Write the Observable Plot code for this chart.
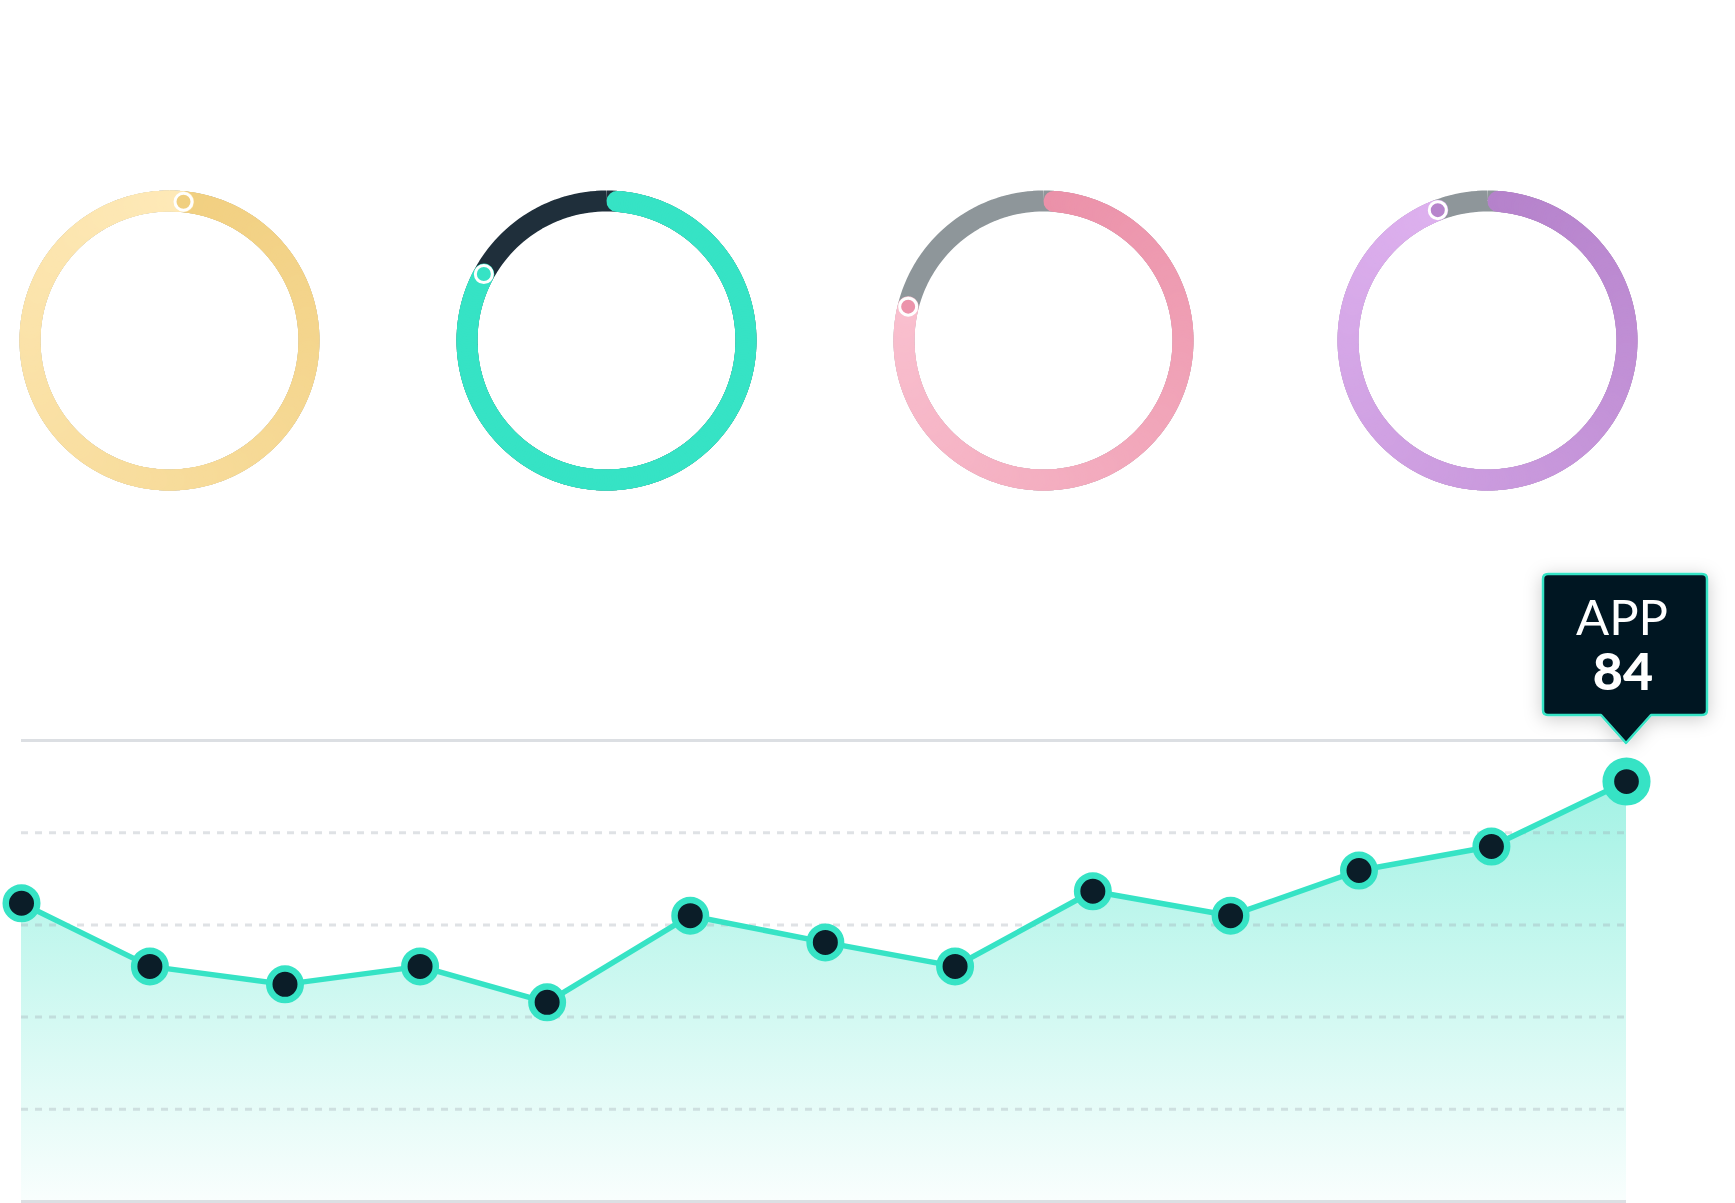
<!DOCTYPE html>
<html>
<head>
<meta charset="utf-8">
<script src="https://cdn.jsdelivr.net/npm/d3@7"></script>
<script src="https://cdn.jsdelivr.net/npm/@observablehq/plot@0.6"></script>
<style>
  html, body { margin: 0; padding: 0; background: #fff; width: 1735px; height: 1203px; overflow: hidden; }
  #rings { display: flex; box-sizing: border-box; height: 490px; padding-top: 190px; padding-left: 19px; }
  #rings > svg { display: block; overflow: visible; flex: none; }
  #rings > svg:nth-child(2), #rings > svg:nth-child(3) { margin-left: 137px; }
  #rings > svg:nth-child(4) { margin-left: 144px; }
  #line > svg { display: block; overflow: visible; }
</style>
</head>
<body>
<div id="rings"></div>
<div id="line"></div>
<script>
// ---------- DATA ----------
const ringNames = ["Ring 1", "Ring 2", "Ring 3", "Ring 4"];
const ringValues = [1.016, 0.829, 0.789, 0.942];

const pointX = [0, 0.96, 1.97, 2.98, 3.93, 5.0, 6.01, 6.98, 8.01, 9.04, 10.0, 10.99, 12];
const pointY = [64.7, 51.0, 47.1, 51.0, 43.2, 62.0, 56.2, 51.0, 67.3, 62.0, 71.8, 77.0, 91.1];
const gridTicks = [0, 20, 40, 60, 80, 100];
const tooltipLabel = "APP";
const tooltipValue = "84";

// ---------- STYLES ----------
const ringStartColors = ["#f1cf80", "#36e3c5", "#eb91a9", "#b582cb"];
const ringEndColors = ["#fee9b7", "#36e3c5", "#f9bfce", "#ddb0ee"];
const ringTrackColors = ["#8e969a", "#1f2f3b", "#8e969a", "#8e969a"];
const ringMarkerColors = ["#f0cf7f", "#36e3c5", "#ec93ab", "#b784cc"];
const teal = "#36e3c5";
const navy = "#0b1d28";

// ---------- RINGS ----------
const R = 0.93; // ring centre-line radius relative to the outer radius
const TAU = Math.PI * 2;
const capTurn = (10.5 / 139.5) / TAU; // round cap begins exactly at 12 o'clock
function polar(t) { return {x: R * Math.sin(t * TAU), y: R * Math.cos(t * TAU)}; }

function ringPlot(i) {
  const v = ringValues[i];
  const track = d3.range(0, 181).map(k => polar(k / 180));
  const n = Math.max(2, Math.round(v * 360));
  const interp = d3.interpolateRgb(ringStartColors[i], ringEndColors[i]);
  const t0 = capTurn;
  const segs = d3.range(n).map(k => {
    const a = polar(t0 + k / n * (v - t0)), b = polar(t0 + (k + 1) / n * (v - t0));
    return {x1: a.x, y1: a.y, x2: b.x, y2: b.y, c: interp((k + 0.5) / n), ring: ringNames[i]};
  });
  const marker = [{...polar(v), ring: ringNames[i]}];
  return Plot.plot({
    width: 300, height: 300, margin: 0,
    x: {domain: [-1, 1], axis: null},
    y: {domain: [-1, 1], axis: null},
    color: {type: "identity"},
    marks: [
      Plot.line(track, {x: "x", y: "y", stroke: ringTrackColors[i], strokeWidth: 21, strokeLinecap: "butt"}),
      Plot.link(segs, {x1: "x1", y1: "y1", x2: "x2", y2: "y2", stroke: "c", strokeWidth: 21, strokeLinecap: "round"}),
      Plot.dot(marker, {x: "x", y: "y", r: 8.5, fill: ringMarkerColors[i], stroke: "white", strokeWidth: 3})
    ]
  });
}
const ringsDiv = document.getElementById("rings");
ringNames.forEach((_, i) => ringsDiv.appendChild(ringPlot(i)));

// ---------- LINE / AREA CHART ----------
const data = pointX.map((x, i) => ({x, y: pointY[i]}));
const last = data[data.length - 1];

const defsMark = () => {
  const defs = d3.create("svg:defs");
  const g = defs.append("linearGradient").attr("id", "areaGrad")
    .attr("x1", 0).attr("y1", 0).attr("x2", 0).attr("y2", 1);
  g.append("stop").attr("offset", 0).attr("stop-color", teal).attr("stop-opacity", 0.46);
  g.append("stop").attr("offset", 1).attr("stop-color", teal).attr("stop-opacity", 0.03);
  const f = defs.append("filter").attr("id", "tipShadow")
    .attr("x", "-30%").attr("y", "-30%").attr("width", "160%").attr("height", "160%");
  f.append("feDropShadow").attr("dx", 0).attr("dy", 3).attr("stdDeviation", 9)
    .attr("flood-color", "#000").attr("flood-opacity", 0.2);
  return defs.node();
};

const linePlot = Plot.plot({
  width: 1735, height: 713,
  marginTop: 250, marginBottom: 2, marginLeft: 21, marginRight: 109,
  x: {domain: [0, 12], axis: null},
  y: {domain: [0, 100], axis: null},
  marks: [
    defsMark,
    Plot.areaY(data, {x: "x", y: "y", fill: "url(#areaGrad)"}),
    Plot.ruleY(gridTicks.filter(d => d > 0 && d < 100), {stroke: "#9aa5ad", strokeOpacity: 0.32, strokeWidth: 3, strokeDasharray: "7,7"}),
    Plot.ruleY([gridTicks[0], gridTicks[gridTicks.length - 1]], {stroke: "#dcdfe3", strokeWidth: 3}),
    Plot.line(data, {x: "x", y: "y", stroke: teal, strokeWidth: 5.5, strokeLinejoin: "round"}),
    Plot.dot(data.slice(0, -1), {x: "x", y: "y", r: 15.75, fill: navy, stroke: teal, strokeWidth: 6.5}),
    Plot.dot([last], {x: "x", y: "y", r: 18.2, fill: navy, stroke: teal, strokeWidth: 11.7})
  ]
});
document.getElementById("line").appendChild(linePlot);

// tooltip anchored on the last point through the plot's scales
const px = linePlot.scale("x").apply(last.x);
const py = linePlot.scale("y").apply(last.y);
const tipY = py - 38, baseY = tipY - 28, topY = baseY - 141;
const left = px - 83, right = px + 81, rr = 5, hw = 25;
const pathD = `M${left + rr},${topY} H${right - rr} Q${right},${topY} ${right},${topY + rr}
  V${baseY - rr} Q${right},${baseY} ${right - rr},${baseY} H${px + hw} L${px},${tipY} L${px - hw},${baseY}
  H${left + rr} Q${left},${baseY} ${left},${baseY - rr} V${topY + rr} Q${left},${topY} ${left + rr},${topY} Z`;
const svg = d3.select(linePlot);
const tip = svg.append("g");
tip.append("path").attr("d", pathD).attr("fill", "#031624").attr("stroke", teal)
  .attr("stroke-width", 2.5).attr("stroke-linejoin", "round").attr("filter", "url(#tipShadow)");
tip.append("text").attr("x", px - 4).attr("y", topY + 61).attr("text-anchor", "middle")
  .attr("fill", "#fff").attr("font-family", "Lato, 'Open Sans', sans-serif")
  .attr("font-size", 49).attr("font-weight", 400).text(tooltipLabel);
tip.append("text").attr("x", px - 3).attr("y", topY + 116).attr("text-anchor", "middle")
  .attr("fill", "#fff").attr("font-family", "Lato, 'Open Sans', sans-serif")
  .attr("font-size", 52).attr("font-weight", 900).text(tooltipValue);
</script>
</body>
</html>
